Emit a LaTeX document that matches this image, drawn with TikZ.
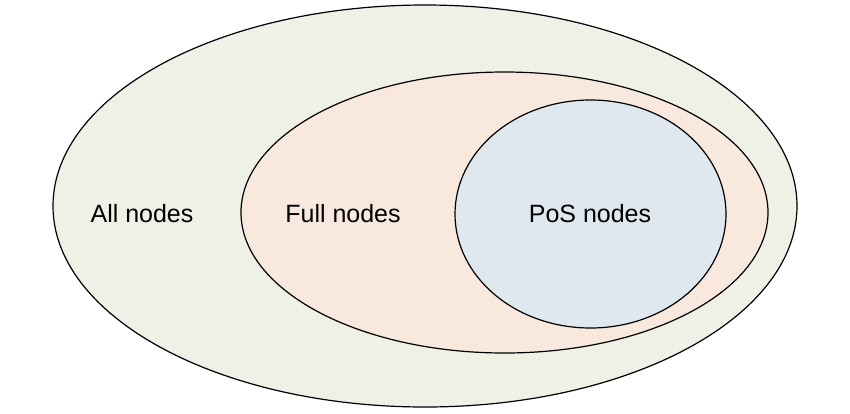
\documentclass[tikz,border=0pt]{standalone}
\usepackage{fontspec}
\setmainfont{Liberation Sans}
\definecolor{outerc}{HTML}{EFF0E6}
\definecolor{midc}{HTML}{F8E8DD}
\definecolor{innc}{HTML}{DFE8EF}
\begin{document}
\begin{tikzpicture}[x=1pt,y=-1pt,
  setline/.style={draw=black,line width=1.2pt},
  lbl/.style={font=\fontsize{25}{30}\selectfont}]
\useasboundingbox (0,0) rectangle (850,413);
\fill[white] (0,0) rectangle (850,413);
\draw[setline,fill=outerc] (425,206) ellipse [x radius=372,y radius=201];
\draw[setline,fill=midc] (504.5,212.5) ellipse [x radius=263.5,y radius=140.5];
\draw[setline,fill=innc] (590.5,214) ellipse [x radius=135.5,y radius=114];
\node[lbl] (all) at (142,214) {All nodes};
\node[lbl] (full) at (343,214) {Full nodes};
\node[lbl] (pos) at (590,214) {PoS nodes};
\end{tikzpicture}
\end{document}
